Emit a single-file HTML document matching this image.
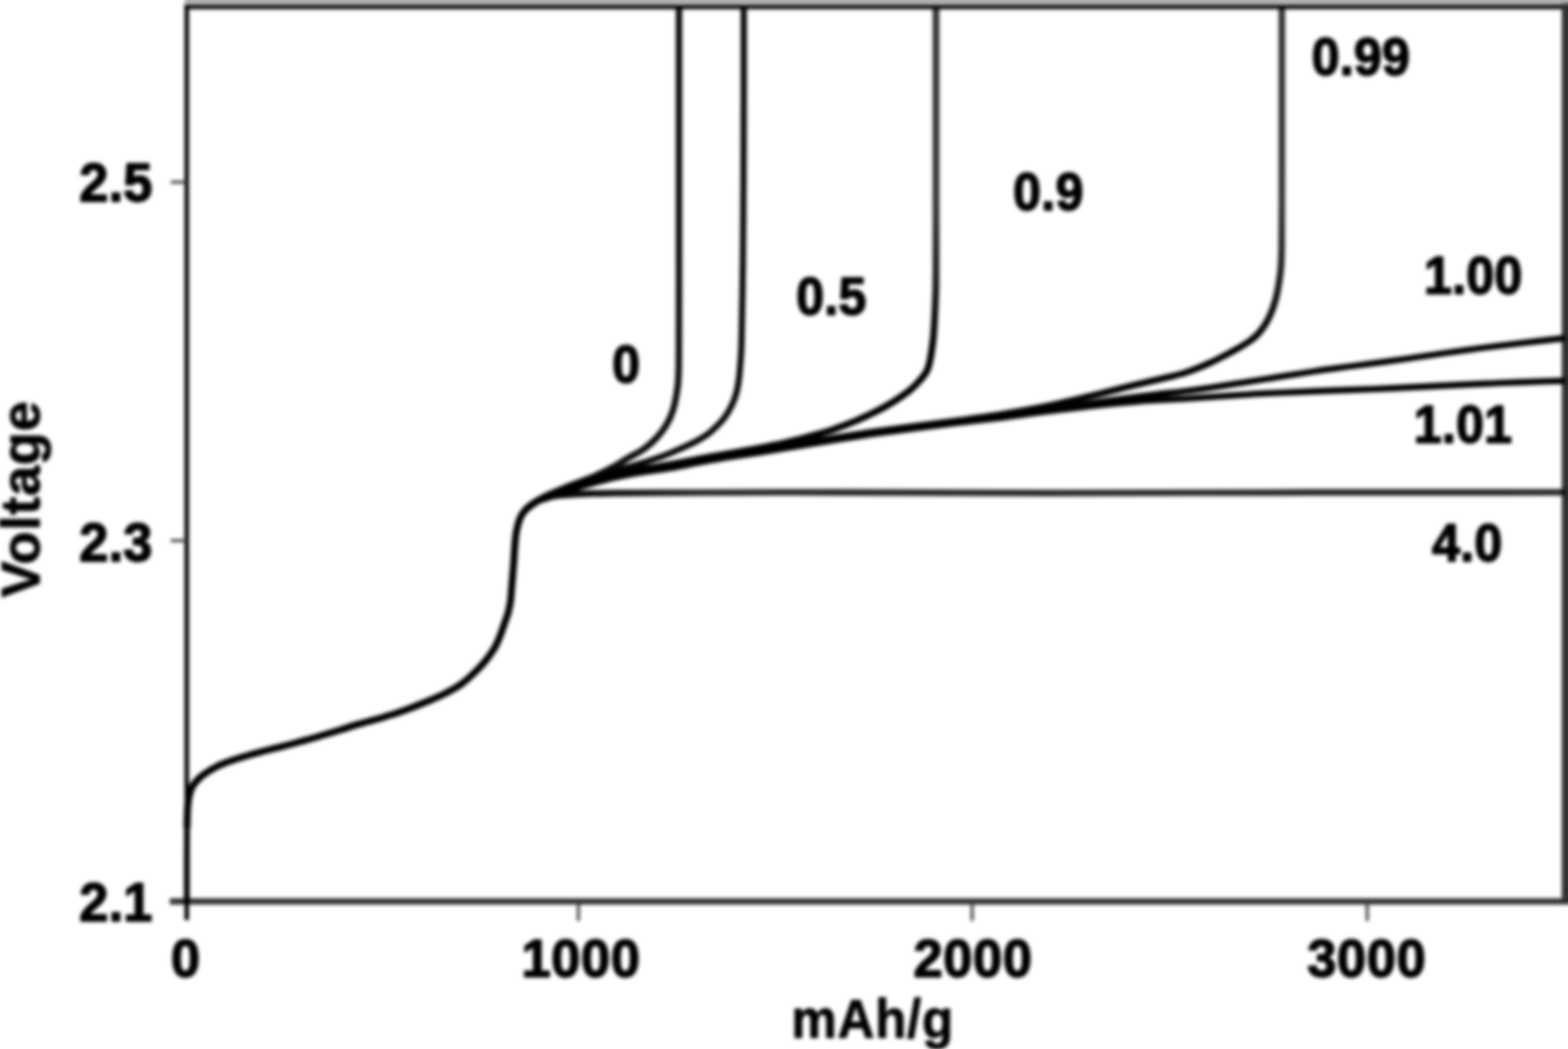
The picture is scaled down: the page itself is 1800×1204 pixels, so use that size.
<!DOCTYPE html>
<html lang="en">
<head>
<meta charset="utf-8">
<title>Voltage vs mAh/g</title>
<style>
html,body{margin:0;padding:0;background:#fff;}
body{width:1800px;height:1204px;overflow:hidden;position:relative;}
svg{display:block;position:absolute;left:0;top:0;}
text{font-family:"Liberation Sans",Arial,Helvetica,sans-serif;font-weight:bold;fill:#000;stroke:#000;stroke-linejoin:round;}
</style>
</head>
<body>
<svg width="1800" height="1204" viewBox="0 0 1800 1204">
<defs>
<filter id="soft" x="-3%" y="-3%" width="106%" height="106%" color-interpolation-filters="sRGB"><feGaussianBlur stdDeviation="2.1"/></filter>
<linearGradient id="fadeV" gradientUnits="userSpaceOnUse" x1="0" y1="240" x2="0" y2="400">
<stop offset="0" stop-color="#000" stop-opacity="0.8"/><stop offset="1" stop-color="#000" stop-opacity="1"/>
</linearGradient>
<linearGradient id="fadeH" gradientUnits="userSpaceOnUse" x1="640" y1="0" x2="800" y2="0">
<stop offset="0" stop-color="#000" stop-opacity="1"/><stop offset="1" stop-color="#000" stop-opacity="0.84"/>
</linearGradient>
</defs>
<rect x="0" y="0" width="1800" height="1204" fill="#fff"/>
<g filter="url(#soft)">
<!-- top grey band -->
<rect x="211.8" y="-30" width="1640" height="34.6" fill="#b1b1b1"/>
<!-- frame / axes -->
<g fill="none" stroke="#000" stroke-linecap="butt">
<path d="M214.4 1056 V5.6" stroke-width="5.2"/>
<path d="M211.8 8 H1800" stroke-width="4.8"/>
<path d="M195 1034.6 H1800" stroke-width="7.4" stroke-opacity="0.8"/>
</g>
<rect x="1792.8" y="4" width="60" height="1034" fill="#303030"/>
<!-- ticks -->
<g fill="none" stroke="#444" stroke-width="3.5">
<path d="M196 209 H214"/>
<path d="M196 620.5 H214"/>
<path d="M664 1036 V1057"/>
<path d="M1116 1036 V1057"/>
<path d="M1569.5 1036 V1057"/>
</g>
<!-- curves -->
<g fill="none" stroke="#000" stroke-width="7.3" stroke-opacity="1" stroke-linejoin="round" stroke-linecap="butt">
<path d="M214.5 1036 L214.5 985 L214.7 948" stroke-width="6.6"/>
<path d="M214.7 950.0 C214.8 945.3 214.8 940.7 215.0 936.0 C215.1 932.3 215.2 928.7 215.6 925.0 C216.1 920.6 216.4 916.2 217.5 912.0 C218.4 908.4 219.7 904.7 221.7 901.5 C223.9 897.9 226.9 894.9 230.0 892.0 C232.5 889.7 235.4 887.9 238.3 886.0 C241.0 884.2 243.8 882.5 246.7 881.0 C249.4 879.5 252.1 878.1 255.0 877.0 C260.5 874.8 266.1 872.9 271.7 871.0 C277.2 869.2 282.7 867.6 288.3 866.0 C293.8 864.4 299.4 863.0 305.0 861.5 C310.6 860.1 316.1 858.7 321.7 857.3 C327.2 855.9 332.8 854.5 338.3 853.0 C344.4 851.4 350.6 849.7 356.7 848.0 C362.3 846.4 367.8 844.7 373.3 843.0 C378.9 841.3 384.4 839.7 390.0 838.0 C395.6 836.3 401.1 834.4 406.7 832.7 C412.2 831.0 417.8 829.6 423.3 828.0 C428.9 826.4 434.5 824.9 440.0 823.2 C445.6 821.5 451.2 819.9 456.7 818.0 C462.3 816.1 467.8 814.1 473.3 812.0 C478.9 809.9 484.5 807.6 490.0 805.3 C496.7 802.5 503.4 799.8 509.9 796.5 C516.7 793.0 523.6 789.5 529.8 785.0 C535.9 780.6 541.3 775.3 546.7 770.0 C551.0 765.8 555.0 761.4 558.7 756.7 C562.1 752.4 565.3 748.0 568.0 743.3 C570.4 739.1 572.2 734.5 574.0 730.0 C575.8 725.6 577.2 721.1 578.7 716.7 C580.3 712.2 582.1 707.9 583.3 703.3 C584.5 698.9 585.4 694.5 586.0 690.0 C586.8 684.3 587.0 678.6 587.5 672.9 C588.3 664.0 589.0 655.2 589.7 646.3 C590.2 639.7 590.4 633.0 591.0 626.4 C591.5 620.6 591.9 614.8 593.0 609.1 C594.1 603.8 595.3 598.4 597.6 593.5 C599.2 589.9 601.7 586.7 604.5 584.0 C607.8 580.7 611.7 578.0 615.7 575.7 C619.9 573.3 624.6 571.8 629.0 569.8" stroke-width="8"/>
<path d="M604.5 584.0 C608.2 581.2 611.6 578.0 615.7 575.7 C619.6 573.5 624.0 572.0 628.3 570.8 C632.1 569.7 636.1 569.3 640.0 568.8 C644.4 568.2 648.9 567.9 653.3 567.6 C661.6 567.1 670.0 566.6 678.3 566.4 C692.2 566.0 706.1 566.0 720.0 565.9 C780.0 565.5 840.0 565.0 900.0 565.0 C1000.0 565.0 1100.0 565.8 1200.0 565.8 C1300.0 565.8 1400.0 565.3 1500.0 565.2 C1599.0 565.1 1698.0 565.1 1797.0 565.0" stroke="url(#fadeH)" stroke-width="7.7" stroke-opacity="1.00"/>
<path d="M604.5 584.0 C608.2 581.2 611.7 578.1 615.7 575.7 C619.6 573.4 623.8 571.7 628.0 570.0 C636.2 566.8 644.6 563.8 653.0 561.0 C661.3 558.3 669.6 555.8 678.0 553.5 C686.3 551.2 694.6 549.0 703.0 547.0 C708.6 545.7 714.3 544.6 720.0 543.5 C725.6 542.4 731.1 541.4 736.7 540.5 C747.8 538.7 758.9 537.4 770.0 535.5 C781.0 533.6 792.0 531.1 803.0 529.0 C814.2 526.9 825.4 524.8 836.7 523.0 C847.8 521.2 858.9 519.8 870.0 518.0 C880.0 516.4 890.0 514.7 900.0 513.0 C916.7 510.2 933.3 507.4 950.0 504.7 C966.7 502.0 983.3 499.3 1000.0 496.8 C1016.6 494.4 1033.3 492.2 1050.0 490.0 C1066.7 487.8 1083.3 485.7 1100.0 483.5 C1116.7 481.3 1133.3 479.2 1150.0 477.0 C1166.7 474.7 1183.3 472.3 1200.0 470.0 C1216.7 467.7 1233.3 465.3 1250.0 463.0 C1266.7 460.7 1283.3 458.2 1300.0 456.0 C1310.0 454.7 1320.0 453.5 1330.0 452.3 C1340.0 451.1 1350.0 450.2 1360.0 449.0 C1370.0 447.7 1380.0 446.3 1390.0 444.8 C1410.0 441.8 1430.0 438.6 1450.0 435.5 C1470.0 432.4 1490.0 429.0 1510.0 426.0 C1523.3 424.0 1536.7 422.3 1550.0 420.5 C1573.3 417.3 1596.7 414.3 1620.0 411.0 C1630.0 409.6 1640.0 407.9 1650.0 406.5 C1666.7 404.1 1683.3 401.7 1700.0 399.5 C1716.6 397.3 1733.3 395.3 1750.0 393.3 C1765.7 391.4 1781.3 389.8 1797.0 388.0" stroke="#000" stroke-width="7.3" stroke-opacity="1.00"/>
<path d="M604.5 584.0 C608.2 581.2 611.6 577.9 615.7 575.7 C619.5 573.7 623.9 573.1 628.0 571.7 C636.4 568.8 644.6 565.5 653.0 562.7 C661.3 560.0 669.6 557.5 678.0 555.2 C686.3 552.9 694.6 550.7 703.0 548.7 C708.6 547.4 714.3 546.3 720.0 545.2 C725.6 544.1 731.1 543.1 736.7 542.2 C747.8 540.4 758.9 539.1 770.0 537.2 C781.0 535.3 792.0 532.8 803.0 530.7 C814.2 528.6 825.4 526.5 836.7 524.7 C847.8 522.9 858.9 521.5 870.0 519.7 C880.0 518.1 890.0 516.4 900.0 514.7 C916.7 511.9 933.3 509.1 950.0 506.4 C966.7 503.7 983.3 501.0 1000.0 498.5 C1016.6 496.1 1033.3 493.9 1050.0 491.7 C1066.7 489.5 1083.3 487.3 1100.0 485.2 C1116.7 483.1 1133.4 481.4 1150.0 479.3 C1166.7 477.2 1183.3 474.7 1200.0 472.5 C1216.7 470.3 1233.3 468.2 1250.0 466.3 C1266.6 464.4 1283.3 462.8 1300.0 461.3 C1310.0 460.4 1320.0 459.8 1330.0 459.2 C1340.0 458.6 1350.0 458.2 1360.0 457.6 C1370.0 457.0 1380.0 456.3 1390.0 455.6 C1400.0 454.9 1410.0 454.3 1420.0 453.6 C1430.0 452.9 1440.0 452.1 1450.0 451.6 C1470.0 450.6 1490.0 449.8 1510.0 449.0 C1523.3 448.5 1536.7 448.0 1550.0 447.5 C1566.7 446.9 1583.3 446.2 1600.0 445.5 C1616.7 444.7 1633.3 443.8 1650.0 443.0 C1666.7 442.2 1683.3 441.3 1700.0 440.5 C1716.7 439.8 1733.3 439.1 1750.0 438.5 C1765.7 437.9 1781.3 437.5 1797.0 437.0" stroke="#000" stroke-width="7.3" stroke-opacity="1.00"/>
<path d="M604.5 584.0 C608.2 581.2 611.8 578.2 615.7 575.7 C619.6 573.2 623.7 571.1 628.0 569.3 C636.2 565.9 644.6 563.1 653.0 560.3 C661.3 557.6 669.6 555.1 678.0 552.8 C686.3 550.5 694.6 548.3 703.0 546.3 C708.6 545.0 714.3 543.9 720.0 542.8 C725.6 541.7 731.1 540.7 736.7 539.8 C747.8 538.0 758.9 536.7 770.0 534.8 C781.0 532.9 792.0 530.4 803.0 528.3 C814.2 526.2 825.4 524.1 836.7 522.3 C847.8 520.5 858.9 519.1 870.0 517.3 C880.0 515.7 890.0 514.0 900.0 512.3 C916.7 509.5 933.3 506.7 950.0 504.0 C966.7 501.3 983.3 498.6 1000.0 496.1 C1016.6 493.7 1033.3 491.5 1050.0 489.3 C1066.7 487.1 1083.4 485.1 1100.0 482.8 C1116.7 480.5 1133.4 478.2 1150.0 475.5 C1166.7 472.8 1183.4 469.9 1200.0 466.5 C1216.8 463.1 1233.4 459.0 1250.0 455.0 C1266.7 451.0 1283.3 446.6 1300.0 442.5 C1310.0 440.1 1320.0 437.8 1330.0 435.5 C1335.0 434.3 1340.0 433.2 1345.0 432.0 C1350.0 430.7 1355.1 429.6 1360.0 428.0 C1365.1 426.4 1370.1 424.5 1375.0 422.5 C1380.1 420.5 1385.1 418.3 1390.0 416.0 C1395.1 413.6 1400.0 411.1 1405.0 408.5 C1410.0 405.9 1415.1 403.3 1420.0 400.5 C1424.9 397.7 1429.8 394.8 1434.5 391.5 C1437.7 389.3 1440.8 386.8 1443.5 384.0 C1446.3 381.1 1448.7 377.8 1451.0 374.5 C1453.3 371.2 1455.2 367.6 1457.0 364.0 C1458.7 360.4 1460.2 356.7 1461.5 353.0 C1463.0 348.7 1464.2 344.4 1465.3 340.0 C1466.3 335.9 1467.0 331.7 1467.7 327.5 C1468.4 323.3 1469.1 319.2 1469.6 315.0 C1470.2 310.0 1470.6 305.0 1470.8 300.0 C1471.1 293.3 1471.3 286.7 1471.3 280.0 C1471.5 253.3 1471.5 226.7 1471.5 200.0 C1471.5 166.7 1471.5 133.3 1471.5 100.0 C1471.5 69.3 1471.5 38.7 1471.5 8.0" stroke="url(#fadeV)" stroke-width="7.6" stroke-opacity="1.00"/>
<path d="M604.5 584.0 C608.2 581.2 611.7 578.1 615.7 575.7 C619.6 573.3 623.8 571.3 628.0 569.5 C636.2 566.0 644.6 562.9 653.0 560.0 C661.3 557.1 669.6 554.5 678.0 552.0 C686.3 549.5 694.6 547.1 703.0 545.0 C708.6 543.6 714.3 542.5 720.0 541.5 C736.6 538.5 753.4 536.0 770.0 533.0 C781.0 531.0 792.0 528.6 803.0 526.5 C814.2 524.4 825.5 522.5 836.7 520.5 C847.8 518.5 858.9 516.6 870.0 514.5 C880.0 512.6 890.0 510.7 900.0 508.5 C906.7 507.0 913.4 505.2 920.0 503.5 C926.7 501.7 933.4 499.9 940.0 498.0 C945.0 496.6 950.0 495.2 955.0 493.5 C960.1 491.8 965.0 489.9 970.0 488.0 C975.0 486.1 979.9 484.1 984.8 482.0 C989.9 479.8 994.8 477.4 999.8 475.0 C1004.8 472.6 1009.8 470.2 1014.7 467.5 C1019.8 464.7 1024.8 461.7 1029.7 458.5 C1034.9 455.0 1040.2 451.5 1045.0 447.5 C1049.0 444.2 1052.6 440.4 1056.0 436.5 C1058.9 433.1 1062.0 429.7 1064.0 425.7 C1065.9 422.0 1066.6 417.8 1067.6 413.7 C1068.5 409.8 1069.0 405.8 1069.6 401.8 C1070.3 396.8 1071.0 391.8 1071.5 386.8 C1072.1 380.3 1072.4 373.9 1072.8 367.4 C1073.2 359.9 1073.5 352.5 1073.8 345.0 C1074.0 340.0 1074.2 335.0 1074.3 330.0 C1074.5 320.0 1074.5 310.0 1074.5 300.0 C1074.6 266.7 1074.5 233.3 1074.5 200.0 C1074.5 166.7 1074.5 133.3 1074.5 100.0 C1074.5 69.3 1074.5 38.7 1074.5 8.0" stroke="url(#fadeV)" stroke-width="7.8" stroke-opacity="1.00"/>
<path d="M604.5 584.0 C608.2 581.2 611.8 578.2 615.7 575.7 C619.6 573.2 623.7 570.9 628.0 569.0 C636.2 565.3 644.6 562.1 653.0 559.0 C661.3 555.9 669.7 553.3 678.0 550.5 C686.3 547.7 694.6 544.8 703.0 542.0 C708.7 540.1 714.3 538.2 720.0 536.5 C725.8 534.7 731.6 533.3 737.4 531.5 C742.4 530.0 747.4 528.2 752.3 526.5 C757.3 524.7 762.4 523.0 767.3 521.0 C772.3 519.0 777.3 516.7 782.2 514.5 C787.2 512.2 792.3 510.1 797.2 507.5 C802.3 504.8 807.3 502.0 812.0 498.6 C816.3 495.5 820.2 491.8 824.0 488.0 C827.2 484.8 830.4 481.4 833.0 477.6 C835.9 473.4 838.3 468.8 840.5 464.2 C842.3 460.3 843.9 456.3 845.0 452.2 C846.4 447.3 847.2 442.3 848.0 437.3 C848.7 432.3 849.1 427.3 849.5 422.3 C850.1 414.9 850.7 407.4 851.0 400.0 C851.4 390.0 851.5 380.0 851.7 370.0 C852.1 346.7 852.6 323.3 852.8 300.0 C853.2 266.7 853.3 233.3 853.5 200.0 C853.7 166.7 853.7 133.3 853.8 100.0 C853.8 69.3 853.8 38.7 853.8 8.0" stroke="#000" stroke-width="7.1" stroke-opacity="0.97"/>
<path d="M604.5 584.0 C608.2 581.2 611.8 578.3 615.7 575.7 C619.7 573.1 623.7 570.5 628.0 568.5 C636.2 564.6 644.6 561.4 653.0 558.0 C661.3 554.7 669.8 552.0 678.0 548.5 C685.5 545.3 692.7 541.6 700.0 538.0 C702.5 536.8 705.0 535.4 707.5 534.0 C712.5 531.1 717.4 527.9 722.4 525.0 C727.4 522.1 732.6 519.7 737.4 516.5 C741.8 513.5 746.0 510.2 749.8 506.5 C753.8 502.7 757.5 498.5 760.8 494.0 C763.8 489.9 766.3 485.5 768.5 481.0 C770.6 476.7 772.2 472.1 773.5 467.5 C774.9 462.5 775.8 457.3 776.7 452.2 C777.5 447.3 778.2 442.3 778.6 437.3 C779.0 431.5 779.1 425.8 779.2 420.0 C779.4 406.7 779.4 393.3 779.4 380.0 C779.5 353.3 779.5 326.7 779.5 300.0 C779.5 266.7 779.5 233.3 779.5 200.0 C779.5 166.7 779.5 133.3 779.5 100.0 C779.5 69.3 779.5 38.7 779.5 8.0" stroke="#000" stroke-width="7.4" stroke-opacity="0.95"/>
</g>
<g class="lbl">
<text transform="translate(91.0 231.4) scale(1.000 1.050)" font-size="60.0" text-anchor="start" stroke-width="1.80" letter-spacing="0.30">2.5</text>
<text transform="translate(91.0 643.8) scale(1.000 1.050)" font-size="60.0" text-anchor="start" stroke-width="1.80" letter-spacing="0.30">2.3</text>
<text transform="translate(91.0 1056.6) scale(1.000 1.050)" font-size="60.0" text-anchor="start" stroke-width="1.80" letter-spacing="0.30">2.1</text>
<text transform="translate(213.4 1120.8) scale(1.000 1.010)" font-size="60.0" text-anchor="middle" stroke-width="1.80" letter-spacing="0.80">0</text>
<text transform="translate(667.0 1120.8) scale(1.000 1.010)" font-size="60.0" text-anchor="middle" stroke-width="1.80" letter-spacing="0.80">1000</text>
<text transform="translate(1117.0 1120.8) scale(1.000 1.010)" font-size="60.0" text-anchor="middle" stroke-width="1.80" letter-spacing="0.80">2000</text>
<text transform="translate(1569.0 1120.8) scale(1.000 1.010)" font-size="60.0" text-anchor="middle" stroke-width="1.80" letter-spacing="0.80">3000</text>
<text transform="translate(1001.8 1190.6) scale(1.000 1.070)" font-size="58.5" text-anchor="middle" stroke-width="1.00" letter-spacing="0.90">mAh/g</text>
<text transform="translate(45.0 572.6) rotate(-90) scale(1.030 1.030)" font-size="60.5" text-anchor="middle" stroke-width="1.00" letter-spacing="0.80">Voltage</text>
<text transform="translate(719.0 438.8) scale(1.000 1.050)" font-size="57.5" text-anchor="middle" stroke-width="1.80" letter-spacing="0.30">0</text>
<text transform="translate(954.3 360.8) scale(1.000 1.050)" font-size="57.5" text-anchor="middle" stroke-width="1.80" letter-spacing="0.30">0.5</text>
<text transform="translate(1203.5 240.8) scale(1.000 1.050)" font-size="57.5" text-anchor="middle" stroke-width="1.80" letter-spacing="0.30">0.9</text>
<text transform="translate(1562.3 85.8) scale(1.000 1.050)" font-size="57.5" text-anchor="middle" stroke-width="1.80" letter-spacing="0.30">0.99</text>
<text transform="translate(1691.3 336.8) scale(1.000 1.050)" font-size="57.5" text-anchor="middle" stroke-width="1.80" letter-spacing="0.30">1.00</text>
<text transform="translate(1679.5 507.8) scale(1.000 1.050)" font-size="57.5" text-anchor="middle" stroke-width="1.80" letter-spacing="0.30">1.01</text>
<text transform="translate(1684.3 643.8) scale(1.000 1.050)" font-size="57.5" text-anchor="middle" stroke-width="1.80" letter-spacing="0.30">4.0</text>
</g>
</g>
</svg>
</body>
</html>
